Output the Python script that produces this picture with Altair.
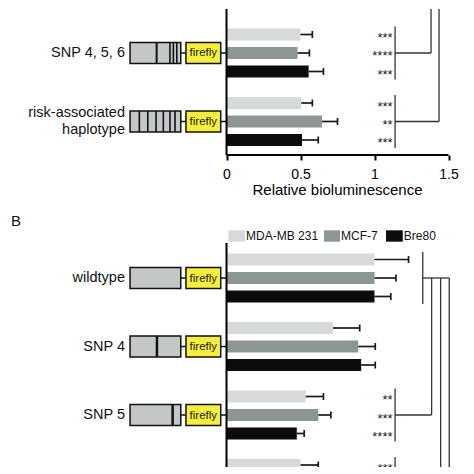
import altair as alt
import pandas as pd

FONT = "Liberation Sans"

# ---------------- data ----------------
series = ["MDA-MB 231", "MCF-7", "Bre80"]
series_colors = ["#d6dada", "#8e9695", "#0c0c0c"]

groups_a = ["SNP 4, 5, 6", "risk-associated\nhaplotype"]
mean_a = [[0.50, 0.48, 0.555], [0.505, 0.645, 0.51]]
upper_a = [[0.58, 0.56, 0.655], [0.58, 0.75, 0.62]]
stars_a = [["***", "****", "***"], ["***", "**", "***"]]

groups_b = ["wildtype", "SNP 4", "SNP 5", ""]
mean_b = [[1.00, 1.00, 1.00], [0.72, 0.89, 0.91], [0.535, 0.62, 0.475], [0.50, None, None]]
upper_b = [[1.23, 1.145, 1.11], [0.90, 1.005, 1.005], [0.655, 0.705, 0.525], [0.62, None, None]]
stars_b = [["", "", ""], ["", "", ""], ["**", "***", "****"], ["***", "", ""]]

x_ticks = [0, 0.5, 1, 1.5]
x_title = "Relative bioluminescence"
panel_b_letter = "B"
reporter = "firefly"

# ---------------- layout (data units) ----------------
W = 458
XS = alt.Scale(domain=[-1.4764, 1.6182], nice=False, zero=False, padding=0)
HA, HB = 146, 261
A_DOM = [0.3577, 2.4891]
B_DOM = [-1.0511, 2.7591]
A_FIRST = 1
OFF = 0.27
CAP = 0.051
BOX = (-0.652, -0.309)
FF = (-0.274, -0.039)
HALF = 0.153
LABEL_X = -0.686
STAR_X = 1.122
BRK_X = 1.139
BRK_H = 0.387
BOX_FILL = "#c3c7c7"
FF_FILL = "#f4ef3c"
BRK_C = "#333333"

inner_lines = {
    "SNP 4, 5, 6": [(-0.472, 2.0), (-0.382, 1.6), (-0.359, 1.6), (-0.336, 1.6)],
    "risk-associated\nhaplotype": [(-0.589, 1.6), (-0.532, 1.6), (-0.476, 1.6),
                                   (-0.427, 1.6), (-0.382, 1.6), (-0.348, 1.6)],
    "wildtype": [],
    "SNP 4": [(-0.470, 2.5)],
    "SNP 5": [(-0.364, 2.5)],
}


def frames(groups, means, uppers, stars, first, ydom):
    bars, st, rects, rules, labs, ffs = [], [], [], [], [], []
    for gi, g in enumerate(groups):
        c = first + gi
        for si, s in enumerate(series):
            m = means[gi][si]
            if m is None:
                continue
            y = c + (si - 1) * OFF
            bars.append(dict(series=s, mean=m, zero=0.0, upper=uppers[gi][si],
                             y=y, ya=y - CAP, yb=y + CAP))
            if stars[gi][si]:
                st.append(dict(t=stars[gi][si], x=STAR_X, y=y))
        if g and c - HALF < ydom[1]:
            rects.append(dict(x=BOX[0], x2=BOX[1], y=c - HALF, y2=c + HALF, f=BOX_FILL))
            rects.append(dict(x=FF[0], x2=FF[1], y=c - HALF, y2=c + HALF, f=FF_FILL))
            ffs.append(dict(x=(FF[0] + FF[1]) / 2, y=c, t=reporter))
            rules.append(dict(x=BOX[1], x2=FF[0], y=c, y2=c, w=1.5, c="#111111"))
            rules.append(dict(x=FF[1], x2=0.0, y=c, y2=c, w=1.5, c="#111111"))
            for lx, lw in inner_lines[g]:
                rules.append(dict(x=lx, x2=lx, y=c - HALF, y2=c + HALF, w=lw, c="#111111"))
            lines = g.split("\n")
            for li, ln in enumerate(lines):
                dy = (li - (len(lines) - 1) / 2) * 0.241
                labs.append(dict(x=LABEL_X, y=c + dy, t=ln))
    return bars, st, rects, rules, labs, ffs


def vseg(x, y1, y2, w=1.3, c=BRK_C):
    return dict(x=x, x2=x, y=y1, y2=y2, w=w, c=c)


def hseg(y, x1, x2, w=1.3, c=BRK_C):
    return dict(x=x1, x2=x2, y=y, y2=y, w=w, c=c)


def panel(groups, means, uppers, stars, first, ydom, height, extra_rules, edge_rules,
          axis=None, legend=False, letter=None):
    bars, st, rects, rules, labs, ffs = frames(groups, means, uppers, stars, first, ydom)
    rules = rules + extra_rules
    YS = alt.Scale(domain=ydom, nice=False, zero=False, reverse=True, padding=0)

    def Y(f):
        return alt.Y(f, type="quantitative", scale=YS, axis=None)

    def X(f):
        # every layer of a panel carries the same axis definition so they merge cleanly
        return alt.X(f, type="quantitative", scale=XS, axis=axis)

    cscale = alt.Scale(domain=series, range=series_colors)
    layers = []
    layers.append(alt.Chart(pd.DataFrame(bars)).mark_bar(size=12, orient="horizontal", clip=True).encode(
        x=X("mean"), x2=alt.X2("zero"), y=Y("y"),
        color=alt.Color("series:N", scale=cscale, legend=None)))
    layers.append(alt.Chart(pd.DataFrame(bars)).mark_rule(color="#1a1a1a", strokeWidth=1.7, clip=True).encode(
        x=X("mean"), x2=alt.X2("upper"), y=Y("y")))
    layers.append(alt.Chart(pd.DataFrame(bars)).mark_rule(color="#1a1a1a", strokeWidth=1.7, clip=True).encode(
        x=X("upper"), y=Y("ya"), y2=alt.Y2("yb")))
    if rects:
        layers.append(alt.Chart(pd.DataFrame(rects)).mark_rect(stroke="#111111", strokeWidth=1.5, clip=True).encode(
            x=X("x"), x2=alt.X2("x2"), y=Y("y"), y2=alt.Y2("y2"),
            fill=alt.Fill("f:N", scale=None)))
    layers.append(alt.Chart(pd.DataFrame(rules)).mark_rule(clip=True).encode(
        x=X("x"), x2=alt.X2("x2"), y=Y("y"), y2=alt.Y2("y2"),
        strokeWidth=alt.StrokeWidth("w:Q", scale=None),
        color=alt.Color("c:N", scale=None)))
    layers.append(alt.Chart(pd.DataFrame(edge_rules)).mark_rule().encode(
        x=X("x"), x2=alt.X2("x2"), y=Y("y"), y2=alt.Y2("y2"),
        strokeWidth=alt.StrokeWidth("w:Q", scale=None),
        color=alt.Color("c:N", scale=None)))
    if ffs:
        layers.append(alt.Chart(pd.DataFrame(ffs)).mark_text(font=FONT, fontSize=11.5, color="#1a1a1a",
                                                            align="center", baseline="middle", dy=0.5, clip=True).encode(
            x=X("x"), y=Y("y"), text="t:N"))
    if labs:
        layers.append(alt.Chart(pd.DataFrame(labs)).mark_text(font=FONT, fontSize=14.5, color="#111111",
                                                             align="right", baseline="middle", clip=True).encode(
            x=X("x"), y=Y("y"), text="t:N"))
    if st:
        layers.append(alt.Chart(pd.DataFrame(st)).mark_text(font=FONT, fontSize=13, color="#222222",
                                                           align="right", baseline="middle", dy=3.5, clip=True).encode(
            x=X("x"), y=Y("y"), text="t:N"))
    if legend:
        ly = -0.613
        lx = [(0.012, 0.125), (0.659, 0.767), (1.078, 1.191)]
        leg = pd.DataFrame([dict(series=s, x=a, x2=b, y=ly - 0.083, y2=ly + 0.083, tx=b + 0.007, ty=ly)
                            for s, (a, b) in zip(series, lx)])
        layers.append(alt.Chart(leg).mark_rect(clip=True).encode(
            x=X("x"), x2=alt.X2("x2"), y=Y("y"), y2=alt.Y2("y2"),
            color=alt.Color("series:N", scale=cscale, legend=None)))
        layers.append(alt.Chart(leg).mark_text(font=FONT, fontSize=12, color="#111111", align="left",
                                               baseline="middle", clip=True).encode(
            x=X("tx"), y=Y("ty"), text="series:N"))
    if letter:
        layers.append(alt.Chart(pd.DataFrame([dict(x=-1.422, y=-0.832, t=letter)])).mark_text(
            font=FONT, fontSize=15, color="#111111", align="center", baseline="middle", clip=True).encode(
            x=X("x"), y=Y("y"), text="t:N"))
    return alt.layer(*layers).properties(width=W, height=height)


# ---- panel A ----
axis_a = alt.Axis(values=x_ticks, labelExpr="'' + datum.value", domain=False, grid=False, ticks=True,
                  tickSize=5, tickWidth=2, tickColor="black", labelFont=FONT, labelFontSize=14,
                  labelColor="black", labelPadding=7, labelFlush=False, labelOverlap=False,
                  title=x_title, titleFont=FONT, titleFontSize=15, titleFontWeight="normal",
                  titleColor="black", titleX=329, titleY=39, titleBaseline="alphabetic")
top_a = A_DOM[0] - 0.3
rules_a = [
    vseg(BRK_X, 1 - BRK_H, 1 + BRK_H), hseg(1, BRK_X, 1.382), vseg(1.382, top_a, 1),
    vseg(BRK_X, 2 - BRK_H, 2 + BRK_H), hseg(2, BRK_X, 1.436), vseg(1.436, top_a, 2),
]
edge_a = [vseg(0.0, A_DOM[0], A_DOM[1], w=2, c="black"),
          hseg(A_DOM[1], 0.0, 1.5, w=2, c="black")]
pa = panel(groups_a, mean_a, upper_a, stars_a, A_FIRST, A_DOM, HA, rules_a, edge_a, axis=axis_a)

# ---- panel B ----
bot_b = B_DOM[1] + 0.5
rules_b = [
    vseg(1.326, -0.38, 0.38), hseg(0, 1.326, 1.505),
    vseg(1.386, 0, 2), vseg(1.447, 0, bot_b), vseg(1.505, 0, bot_b),
    vseg(BRK_X, 2 - BRK_H, 2 + BRK_H), hseg(2, BRK_X, 1.386),
    vseg(BRK_X, 3 - BRK_H, bot_b),
    vseg(0.0, -0.511, bot_b, w=2, c="black"),
]
edge_b = [vseg(0.0, -0.511, -0.5, w=2, c="black")]
pb = panel(groups_b, mean_b, upper_b, stars_b, 0, B_DOM, HB, rules_b, edge_b, legend=True,
           letter=panel_b_letter)

chart = alt.vconcat(pa, pb, spacing=51, bounds="flush", padding=0).resolve_scale(
    x="independent", y="independent", color="independent"
).configure(font=FONT).configure_view(stroke=None)

chart.save("out.html", embed_options={"renderer": "svg", "actions": False})
